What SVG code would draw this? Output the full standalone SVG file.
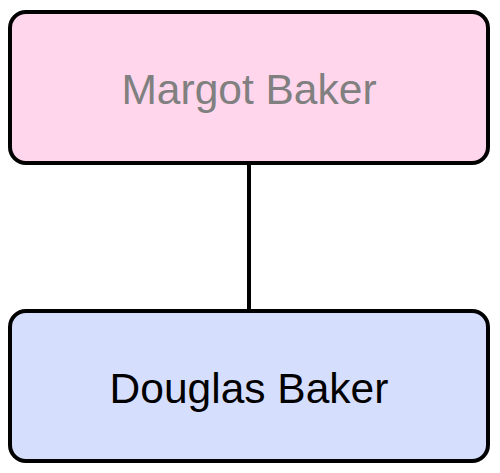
<svg xmlns="http://www.w3.org/2000/svg" width="500" height="473" viewBox="0 0 500 473">
<style>
.box{stroke:#000;stroke-width:4}
.lbl{font-family:"Liberation Sans",Arial,sans-serif;font-size:42.5px;text-anchor:middle}
.conn{stroke:#000;stroke-width:4;fill:none}
</style>
<rect width="500" height="473" fill="#fff"/>
<g id="connectors">
<line class="conn" x1="249" y1="163" x2="249" y2="311"/>
</g>
<g id="margot">
<rect class="box" x="10" y="12" width="478" height="151" rx="16" fill="#ffd6ec"/>
<text class="lbl" x="249" y="104" fill="#808080">Margot Baker</text>
</g>
<g id="douglas">
<rect class="box" x="10" y="311" width="478" height="150" rx="16" fill="#d6defe"/>
<text class="lbl" x="249" y="403" fill="#000">Douglas Baker</text>
</g>
</svg>
